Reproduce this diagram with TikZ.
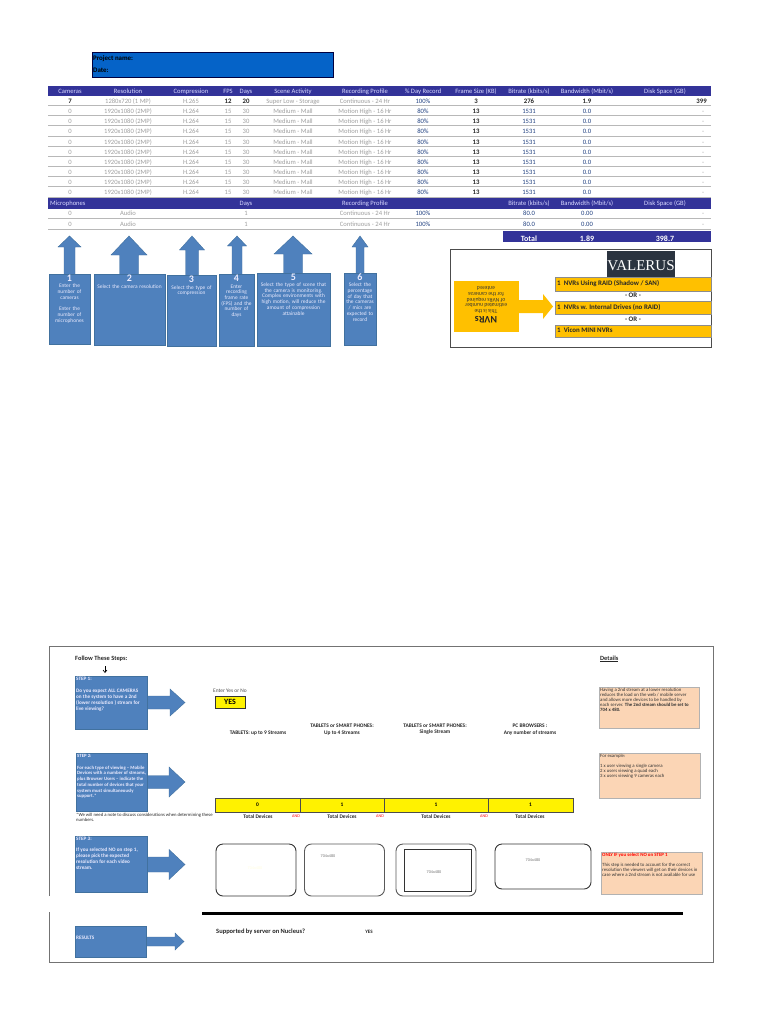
\documentclass[tikz,border=0pt]{standalone}
\usepackage{fontspec}
\setmainfont{Carlito}
\newfontfamily\logofont{Liberation Serif}
\usepackage{xcolor}
\usetikzlibrary{positioning,calc,arrows.meta}
\definecolor{tablehead}{HTML}{333399}
\definecolor{projblue}{HTML}{0563C8}
\definecolor{stepblue}{HTML}{4F81BD}
\definecolor{stepedge}{HTML}{41719F}
\definecolor{barorange}{HTML}{FFC000}
\definecolor{noteskin}{HTML}{FBD5B5}
\definecolor{pctblue}{HTML}{1F3F7F}
\definecolor{logoslate}{HTML}{2B3440}
\tikzset{
    cell/.style={inner sep=0pt, font=\fontsize{6.6}{8}\selectfont},
    rowcell/.style={cell, anchor=base, yshift=-2.2pt},
    headcell/.style={rowcell, text=white!85!blue},
    graycell/.style={rowcell, text=black!38},
    bluecell/.style={rowcell, text=pctblue},
    boldcell/.style={rowcell, font=\fontsize{6.8}{8}\selectfont\bfseries, text=black!85},
    totalcell/.style={rowcell, yshift=-0.3pt, font=\fontsize{8}{9}\selectfont\bfseries, text=white},
    rowrule/.style={draw=black!28, line width=1pt},
    stepbox/.style={draw=stepedge, fill=stepblue, line width=0.8pt, inner sep=0pt},
    steptext/.style={inner sep=0pt, align=center, text=white!92!blue, font=\fontsize{5.4}{5.7}\selectfont},
    leftstep/.style={inner sep=0pt, align=left, text=white!92!blue, font=\fontsize{5.2}{5.9}\selectfont\bfseries},
    fatarrow/.style={fill=stepblue, draw=stepedge, line width=0.4pt},
    nvrbar/.style={draw=black!45, fill=barorange, line width=0.8pt, anchor=west, inner sep=0pt, minimum width=156pt},
    nvrtext/.style={inner sep=0pt, font=\fontsize{6.9}{8}\selectfont\bfseries, text=black!85},
    devicebar/.style={draw=black!70, fill=yellow, line width=0.8pt, inner sep=0pt, minimum height=14pt, font=\fontsize{5.4}{6}\selectfont\bfseries},
    devtext/.style={inner sep=0pt, font=\fontsize{5.4}{6.3}\selectfont\bfseries, text=black!85, align=center},
    andtext/.style={inner sep=0pt, font=\fontsize{4.2}{5}\selectfont, text=red},
    notebox/.style={draw=black!30, fill=noteskin, line width=0.6pt, inner sep=0pt},
    notetext/.style={inner sep=0pt, align=left, text=black!80, font=\fontsize{4.8}{5.1}\selectfont},
    roundbox/.style={draw=black!80, line width=0.9pt, rounded corners=7pt, inner sep=0pt, minimum height=52pt},
    restext/.style={inner sep=0pt, font=\fontsize{4.2}{5}\selectfont, text=black!55},
}
\begin{document}
\begin{tikzpicture}[x=1pt,y=-1pt]
    \useasboundingbox (0,0) rectangle (768,1024);
    % Project header
    \node[draw=black!75!blue, fill=projblue, line width=0.8pt, minimum width=241pt, minimum height=25pt, inner sep=0pt] (project) at (212.5,64.5) {};
    \node[cell, anchor=west, font=\fontsize{6.9}{8}\selectfont\bfseries] (projname) at (93,58.5) {Project name:};
    \node[cell, anchor=west, font=\fontsize{6.9}{8}\selectfont\bfseries] (projdate) at (93,70.5) {Date:};

    % Table bands
    \node[fill=tablehead, minimum width=663pt, minimum height=10.5pt, inner sep=0pt] (headband) at (379.5,91) {};
    \node[fill=tablehead, minimum width=663pt, minimum height=10.5pt, inner sep=0pt] (micband) at (379.5,203.5) {};
    \node[fill=tablehead, minimum width=208pt, minimum height=11pt, inner sep=0pt] (totalband) at (607,236.5) {};
    \foreach \y in {106,116,126,137,147,157,167,177,187,197.5,219,229.5} {
        \draw[rowrule] (48,\y) -- (711,\y);
    }
    % Column titles
    \foreach \x/\t in {70/Cameras, 128/Resolution, 191/Compression, 228/FPS, 246/Days, 293/Scene Activity, 365/Recording Profile, 423/\% Day Record, 476/Frame Size (KB), 529/{Bitrate (kbits/s)}, 587/{Bandwidth (Mbit/s)}, 665/Disk Space (GB)} {
        \node[headcell] at (\x,91) {\t};
    }
    \node[headcell, anchor=base west] (michead) at (50,203.5) {Microphones};
    \foreach \x/\t in {246/Days, 365/Recording Profile, 529/{Bitrate (kbits/s)}, 587/{Bandwidth (Mbit/s)}, 665/Disk Space (GB)} {
        \node[headcell] at (\x,203.5) {\t};
    }
    % First row
    \node[boldcell] (cam0) at (70,101.5) {7};
    \node[graycell] (res0) at (128,101.5) {1280x720 (1 MP)};
    \node[graycell] (comp0) at (191,101.5) {H.265};
    \node[boldcell] (fps0) at (228,101.5) {12};
    \node[boldcell] (days0) at (246,101.5) {20};
    \node[graycell] (scene0) at (293,101.5) {Super Low - Storage};
    \node[graycell] (prof0) at (365,101.5) {Continuous - 24 Hr};
    \node[bluecell] (pct0) at (423,101.5) {100\%};
    \node[boldcell] (size0) at (476,101.5) {3};
    \node[boldcell] (rate0) at (529,101.5) {276};
    \node[boldcell] (band0) at (587,101.5) {1.9};
    \node[boldcell, anchor=base east] (disk0) at (707,101.5) {399};
    % Camera rows
    \foreach \n/\y in {1/111, 2/121, 3/131, 4/142, 5/152, 6/162, 7/172, 8/182, 9/192} {
        \node[graycell] (cam\n) at (70,\y) {0};
        \node[graycell] (res\n) at (128,\y) {1920x1080 (2MP)};
        \node[graycell] (comp\n) at (191,\y) {H.264};
        \node[graycell] (fps\n) at (228,\y) {15};
        \node[graycell] (days\n) at (246,\y) {30};
        \node[graycell] (scene\n) at (293,\y) {Medium - Mall};
        \node[graycell] (prof\n) at (365,\y) {Motion High - 16 Hr};
        \node[bluecell] (pct\n) at (423,\y) {80\%};
        \node[boldcell] (size\n) at (476,\y) {13};
        \node[bluecell] (rate\n) at (529,\y) {1531};
        \node[bluecell] (band\n) at (587,\y) {0.0};
        \node[graycell] (disk\n) at (703,\y) {-};
    }
    % Microphone rows
    \foreach \n/\y in {1/213, 2/224} {
        \node[graycell] (mic\n) at (70,\y) {0};
        \node[graycell] (audio\n) at (128,\y) {Audio};
        \node[graycell] (micdays\n) at (246,\y) {1};
        \node[graycell] (micprof\n) at (365,\y) {Continuous - 24 Hr};
        \node[bluecell] (micpct\n) at (423,\y) {100\%};
        \node[bluecell] (micrate\n) at (529,\y) {80.0};
        \node[bluecell] (micband\n) at (587,\y) {0.00};
        \node[graycell] (micdisk\n) at (703,\y) {-};
    }
    \foreach \x/\t in {529/Total, 587/1.89, 665/398.7} {
        \node[totalcell] at (\x,239) {\t};
    }

    % Up arrows: x / head half / shaft half / head base
    \foreach \x/\hw/\sw/\hy in {69.5/11.5/5.5/247, 129/18/9.5/255, 192/12.5/6.5/250, 237/9.5/5/246, 293/19/9.5/254, 360/8/4/247} {
        \draw[fatarrow] (\x,236) -- (\x+\hw,\hy) -- (\x+\sw,\hy) -- (\x+\sw,276) -- (\x-\sw,276) -- (\x-\sw,\hy) -- (\x-\hw,\hy) -- cycle;
    }
    % Step boxes under the arrows
    \node[stepbox, minimum width=41pt, minimum height=70pt] (box1) at (69.5,309) {};
    \node[stepbox, minimum width=71pt, minimum height=71pt] (box2) at (129.5,309.5) {};
    \node[stepbox, minimum width=49pt, minimum height=71pt] (box3) at (191.5,310.5) {};
    \node[stepbox, minimum width=35pt, minimum height=72pt] (box4) at (236.5,310.5) {};
    \node[stepbox, minimum width=73pt, minimum height=73pt] (box5) at (293.5,309.5) {};
    \node[stepbox, minimum width=32pt, minimum height=72pt] (box6) at (360,309) {};
    \foreach \n in {1,...,6} {
        \node[inner sep=0pt, text=white!92!blue, font=\fontsize{10}{10}\selectfont\bfseries, anchor=north] (num\n) at ($(box\n.north)+(0,1)$) {\n};
    }
    \node[steptext, text width=40pt, below=2.5pt of num1] (text1) {Enter the\\number of\\cameras\\[5.7pt]Enter the\\number of\\microphones};
    \node[steptext, text width=70pt, below=2.5pt of num2] (text2) {Select the camera resolution};
    \node[steptext, text width=46pt, below=2.5pt of num3] (text3) {Select the type of\\compression};
    \node[steptext, text width=33pt, below=2.5pt of num4] (text4) {Enter\\recording\\frame rate\\(FPS) and the\\number of\\days};
    \node[steptext, text width=70pt, below=2pt of num5] (text5) {Select the type of scene that\\the camera is monitoring.\\Complex environments with\\high motion, will reduce the\\amount of compression\\attainable};
    \node[steptext, text width=31pt, below=2pt of num6] (text6) {Select the\\percentage\\of day that\\the cameras\\/ mics are\\expected to\\record};

    % NVR panel
    \node[draw=black!70, line width=1pt, minimum width=261pt, minimum height=98pt, inner sep=0pt] (nvrpanel) at (580.5,298) {};
    \node[fill=logoslate, minimum width=68pt, minimum height=26pt, inner sep=0pt] (logo) at (641,264) {};
    \node[inner sep=0pt, text=white, font=\fontsize{15}{16}\logofont\selectfont] (logotext) at (641,265.5) {VALERUS};
    \fill[barorange] (454,281) rectangle (519,332);
    \fill[barorange] (519,300) -- (543,300) -- (543,294) -- (553,306.5) -- (543,319) -- (543,313) -- (519,313) -- cycle;
    \node[inner sep=0pt, rotate=180, font=\fontsize{10}{10}\selectfont\bfseries, text=black!85] (nvrword) at (486,320) {NVRs};
    \foreach \y/\t in {311/This is the, 305.5/estimated number, 300/of NVRs required, 294.5/for the cameras, 288.5/entered} {
        \node[inner sep=0pt, rotate=180, font=\fontsize{5.6}{6}\selectfont, text=black!80] at (486,\y) {\t};
    }
    \node[nvrbar, minimum height=14pt] (bar1) at (555,284) {};
    \node[nvrbar, minimum height=13pt] (bar2) at (555,307.5) {};
    \node[nvrbar, minimum height=12pt] (bar3) at (555,331) {};
    \node[nvrtext, anchor=west] (bartext1) at (557,284) {1\ \ NVRs Using RAID (Shadow / SAN)};
    \node[nvrtext, anchor=west] (bartext2) at (557,307) {1\ \ NVRs w. Internal Drives (no RAID)};
    \node[nvrtext, anchor=west] (bartext3) at (557,330) {1\ \ Vicon MINI NVRs};
    \node[nvrtext] (or1) at (633,295.5) {- OR -};
    \node[nvrtext] (or2) at (633,319) {- OR -};

    % Lower frame
    \draw[draw=black!55, line width=0.9pt] (49,896) -- (49,646) -- (713,646) -- (713,962) -- (49,962) -- (49,912);
    \node[inner sep=0pt, anchor=west, font=\fontsize{6.4}{8}\selectfont\bfseries, text=black!85] (follow) at (75,659) {Follow These Steps:};
    \coordinate (followtip) at (105,673);
    \draw[-{Straight Barb[length=2.5pt,width=4pt]}, line width=0.6pt] (105,666) -- (followtip);
    \node[inner sep=0pt, anchor=west, font=\fontsize{6.4}{8}\selectfont\bfseries, text=black!85] (details) at (600,659) {\underline{Details}};

    % Right arrows: y / shaft half / head start / head half / tip
    \foreach \y/\sh/\hx/\hh/\ex in {702.5/6.5/170/13.5/185, 782/6.5/169/15/185, 864.5/7.5/169/15/185, 941.5/4.5/175/8.5/184} {
        \draw[fatarrow] (140,\y-\sh) -- (\hx,\y-\sh) -- (\hx,\y-\hh) -- (\ex,\y) -- (\hx,\y+\hh) -- (\hx,\y+\sh) -- (140,\y+\sh) -- cycle;
    }
    \node[stepbox, minimum width=72pt, minimum height=53pt] (step1) at (111,702.5) {};
    \node[stepbox, minimum width=71pt, minimum height=58pt] (step2) at (111.5,782) {};
    \node[stepbox, minimum width=72pt, minimum height=56pt] (step3) at (111,864) {};
    \node[stepbox, minimum width=71pt, minimum height=31pt] (results) at (110.5,941.5) {};
    \node[leftstep, anchor=north west] (step1text) at (76,677) {STEP 1:\\[5.9pt]Do you expect ALL CAMERAS\\on the system to have a 2nd\\(lower resolution ) stream for\\live viewing?};
    \node[leftstep, anchor=north west, font=\fontsize{4.8}{5.7}\selectfont\bfseries] (step2text) at (77,754.5) {STEP 2:\\[5.7pt]For each type of viewing -- Mobile\\Devices with a number of streams,\\plus Browser Users -- indicate the\\total number of devices that your\\system must simultaneously\\support.*};
    \node[leftstep, anchor=north west] (step3text) at (76,836.5) {STEP 3:\\[5.9pt]If you selected NO on step 1,\\please pick the expected\\resolution for each video\\stream.};
    \node[leftstep, anchor=west] (resultstext) at (76,938) {RESULTS};
    \node[inner sep=0pt, anchor=north west, align=left, font=\fontsize{4.7}{5}\selectfont, text=black!85] (footnote) at (76,812.5) {*We will need a note to discuss considerations when determining these\\numbers.};

    % Step 1 answer
    \node[inner sep=0pt, font=\fontsize{5.4}{6}\selectfont, text=black!70] (enteryes) at (230,691) {Enter Yes or No};
    \node[draw=black!80, fill=yellow, line width=0.9pt, minimum width=30pt, minimum height=12pt, inner sep=0pt, font=\fontsize{8}{9}\selectfont\bfseries] (yesbox) at (230,702) {YES};

    % Device columns
    \node[devtext] (devhead1) at (258,733) {TABLETS: up to 9 Streams};
    \node[devtext] (devhead2) at (342,729.5) {TABLETS or SMART PHONES:\\Up to 4 Streams};
    \node[devtext] (devhead3) at (435,729.5) {TABLETS or SMART PHONES:\\Single Stream};
    \node[devtext] (devhead4) at (530,729.5) {PC BROWSERS :\\Any number of streams};
    \node[devicebar, minimum width=85pt] (dev1) at (257.5,805) {0};
    \node[devicebar, minimum width=84pt] (dev2) at (342,805) {1};
    \node[devicebar, minimum width=104pt] (dev3) at (436,805) {1};
    \node[devicebar, minimum width=85pt] (dev4) at (530.5,805) {1};
    \foreach \n/\x in {1/258, 2/342, 3/436, 4/530} {
        \node[devtext] (total\n) at (\x,816.5) {Total Devices};
    }
    \foreach \n/\x in {1/296, 2/380, 3/484} {
        \node[andtext] (and\n) at (\x,816) {AND};
    }

    % Notes
    \node[notebox, minimum width=100pt, minimum height=41pt] (note1) at (649,707.5) {};
    \node[notetext, anchor=north west] (note1text) at (600,687.5) {Having a 2nd stream at a lower resolution\\reduces the load on the web / mobile server\\and allows more devices to be handled by\\each server. \textbf{The 2nd stream should be set to}\\\textbf{704 x 480.}};
    \node[notebox, minimum width=101pt, minimum height=45pt] (note2) at (649.5,775.5) {};
    \node[notetext, anchor=north west] (note2text) at (600,753.5) {For example:\\[5.1pt]1 x user viewing a single camera\\2 x users viewing a quad each\\3 x users viewing 9 cameras each};
    \node[notebox, minimum width=101pt, minimum height=42pt] (note3) at (651.5,873) {};
    \node[notetext, anchor=north west, text=red, font=\fontsize{4.9}{5.2}\selectfont\bfseries] (note3head) at (602,852.5) {ONLY IF you select NO on STEP 1};
    \node[notetext, anchor=north west] (note3text) at (602,862.5) {This step is needed to account for the correct\\resolution the viewers will get on their devices in\\case where a 2nd stream is not available for use};

    % Resolution boxes
    \node[roundbox, minimum width=80pt] (res1box) at (256,870) {};
    \node[restext, text=yellow!12] (res1val) at (255,868) {704x480};
    \node[roundbox, draw=black!65, minimum width=80pt] (res2box) at (344.5,870) {};
    \node[restext] (res2val) at (328,856) {704x480};
    \node[roundbox, draw=black!65, minimum width=80pt] (res3box) at (436,870) {};
    \node[draw=black!80, line width=0.9pt, minimum width=67pt, minimum height=42pt, inner sep=0pt] (res3inner) at (437.5,870) {};
    \node[restext] (res3val) at (434,872) {704x480};
    \node[roundbox, minimum width=96pt, minimum height=45pt] (res4box) at (543,866.5) {};
    \node[restext] (res4val) at (533,860) {704x480};

    % Results
    \draw[line width=3pt] (202,913) -- (683,913);
    \node[inner sep=0pt, anchor=west, font=\fontsize{6.5}{7}\selectfont\bfseries, text=black!85] (supported) at (216,932) {Supported by server on Nucleus?};
    \node[inner sep=0pt, font=\fontsize{5}{6}\selectfont\bfseries, text=black!85] (supportedval) at (369,932) {YES};
\end{tikzpicture}
\end{document}
